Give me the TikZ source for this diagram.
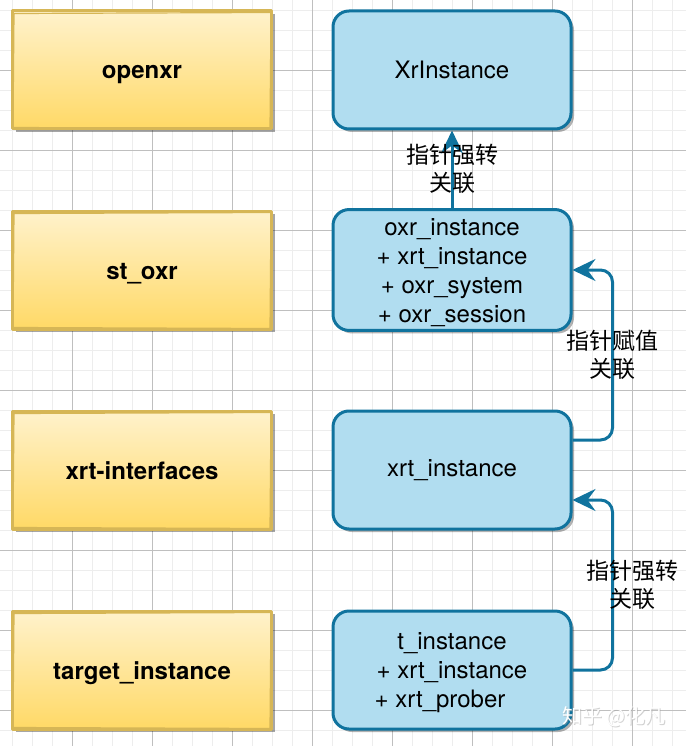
\documentclass[tikz,border=0pt]{standalone}
\usepackage{fontspec}
\setmainfont{TeX Gyre Heros}
\newfontfamily\cjk{Noto Sans CJK SC}
\usetikzlibrary{arrows.meta,shadows}

\definecolor{boxblue}{HTML}{B1DDF0}
\definecolor{lineblue}{HTML}{10739E}
\definecolor{sunlight}{HTML}{FFF2CC}
\definecolor{sundark}{HTML}{FFD966}
\definecolor{sunline}{HTML}{D6B656}

\begin{document}
\begin{tikzpicture}[x=1pt, y=-1pt,
    every node/.style={font=\fontsize{24}{29}\selectfont},
    gridminor/.style={black!7, line width=0.8pt},
    gridmajor/.style={black!25, line width=0.8pt},
    layer/.style={minimum width=259pt, minimum height=118pt, top color=sunlight, bottom color=sundark,
        draw=sunline, line width=3pt, line join=round, font=\fontsize{24}{29}\selectfont\bfseries,
        text height=20pt, text depth=2pt,
        drop shadow={shadow xshift=3pt, shadow yshift=-3pt, fill=black, opacity=0.35}},
    thing/.style={minimum width=238pt, minimum height=118pt, fill=boxblue, draw=lineblue, line width=3pt,
        rounded corners=16pt, align=center,
        drop shadow={shadow xshift=3pt, shadow yshift=-3pt, fill=black, opacity=0.3}},
    link/.style={draw=lineblue, line width=3pt, -{Stealth[length=23pt, width=22pt, inset=8pt]}},
    note/.style={font=\cjk\fontsize{23}{28}\selectfont, align=center}]

    % Background and grid
    \useasboundingbox (0,0) rectangle (686,746);
    \fill[white] (0,0) rectangle (686,746);
    \foreach \gx in {12,32,...,672} \draw[gridminor] (\gx,0) -- (\gx,746);
    \foreach \gy in {10,30,...,730} \draw[gridminor] (0,\gy) -- (686,\gy);
    \foreach \gx in {72,152,...,632} \draw[gridmajor] (\gx,0) -- (\gx,746);
    \foreach \gy in {70,150,...,710} \draw[gridmajor] (0,\gy) -- (686,\gy);

    % Modules
    \node[layer] (openxr) at (142,70) {openxr};
    \node[layer] (stoxr) at (142,270) {st\_oxr};
    \node[layer] (xrtif) at (142,470) {xrt-interfaces};
    \node[layer] (target) at (142,670) {target\_instance};
    \foreach \n in {openxr,stoxr,xrtif,target}
        \draw[sunline, line width=1.2pt, line join=round]
            ([shift={(3pt,-4pt)}]\n.north west) -- ([shift={(-2pt,-3pt)}]\n.north east)
            -- ([shift={(-3pt,2pt)}]\n.south east) -- ([shift={(2pt,3pt)}]\n.south west) -- cycle;

    % Structures
    \node[thing] (xrinst) at (452,70) {XrInstance};
    \node[thing] (oxrinst) at (452,270) {\rule{0pt}{23pt}oxr\_instance\\+ xrt\_instance\\+ oxr\_system\\+ oxr\_session};
    \node[thing] (xrtinst) at (452,470) {xrt\_instance};
    \node[thing] (tinst) at (452,670) {\rule{0pt}{23pt}t\_instance\\+ xrt\_instance\\+ xrt\_prober\hspace*{24pt}};

    % Links
    \draw[link] (oxrinst.north) -- node[note] {指针强转\\关联} (xrinst.south);
    \draw[link] ([yshift=30pt]xrtinst.east) [rounded corners=12pt] -- ++(40,0) |- node[note, pos=0.25] {指针赋值\\关联} (oxrinst.east) [sharp corners];
    \draw[link] (tinst.east) [rounded corners=12pt] -- ++(40,0) |- node[note, pos=0.25, xshift=20pt] {指针强转\\关联} ([yshift=-30pt]xrtinst.east) [sharp corners];

    % Watermark
    \node[font=\cjk\fontsize{20}{20}\selectfont, text=black!35, opacity=0.5] (markshade) at (615,718) {知乎 @化凡};
    \node[font=\cjk\fontsize{20}{20}\selectfont, text=white] (mark) at (614,717) {知乎 @化凡};
\end{tikzpicture}
\end{document}
